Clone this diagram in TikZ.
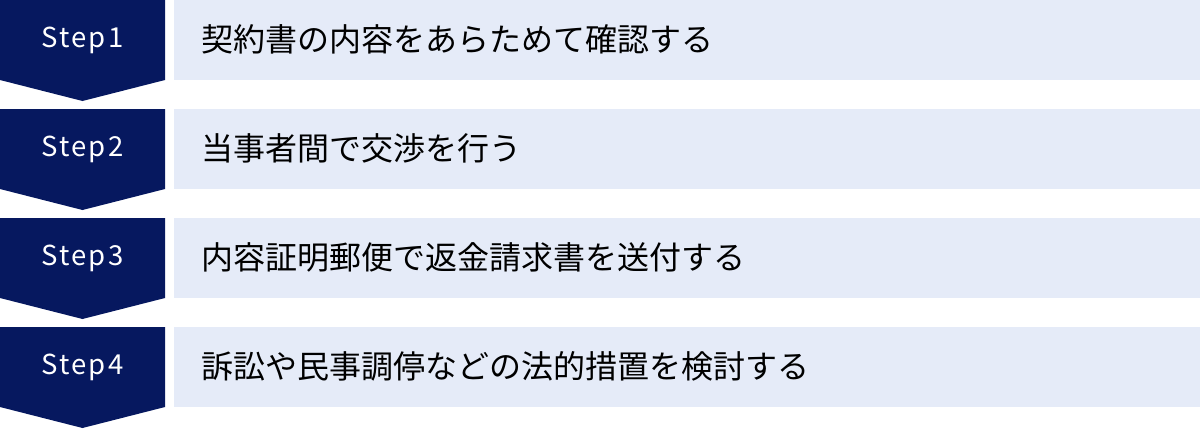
\documentclass[tikz,border=0pt]{standalone}
\usepackage{fontspec}
\setmainfont{Noto Sans CJK JP}
\newfontfamily\stepfont[LetterSpace=8]{Noto Sans CJK JP}
\definecolor{navy}{HTML}{06185F}
\definecolor{pale}{HTML}{E5EBF8}
\tikzset{
  stepshape/.style={fill=navy,draw=none},
  rowbox/.style={fill=pale,draw=none,minimum width=1026pt,minimum height=80pt,anchor=north west,inner sep=0pt},
  steplabel/.style={text=white,font=\stepfont\fontsize{27.5pt}{32pt}\selectfont,inner sep=0pt},
  rowlabel/.style={text=black,font=\fontsize{32pt}{37pt}\selectfont,anchor=west,inner sep=0pt}
}
\begin{document}
\begin{tikzpicture}[x=1pt,y=-1pt]
\useasboundingbox (0,0) rectangle (1200,429);
\foreach \i/\lab/\txt in {0/1/契約書の内容をあらためて確認する,1/2/当事者間で交渉を行う,2/3/内容証明郵便で返金請求書を送付する,3/4/訴訟や民事調停などの法的措置を検討する}{
  \pgfmathsetmacro{\yy}{109*\i}
  \fill[stepshape] (0,\yy) -- (165,\yy) -- (165,\yy+80) -- (82.5,\yy+101) -- (0,\yy+80) -- cycle;
  \node[rowbox] (box\lab) at (174,\yy) {};
  \node[steplabel] (step\lab) at (82.5,\yy+40.5) {Step\lab};
  \node[rowlabel] (text\lab) at (201,\yy+39.5) {\txt};
}
\end{tikzpicture}
\end{document}
